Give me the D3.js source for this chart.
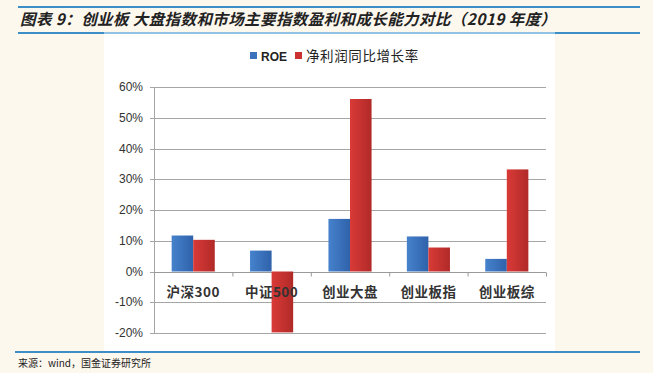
<!DOCTYPE html>
<html>
<head>
<meta charset="utf-8">
<script src="https://cdn.jsdelivr.net/npm/d3@7"></script>
<style>
  body { margin: 0; background: #fdf8ee; }
  svg { display: block; }
</style>
</head>
<body>
<svg id="canvas" width="653" height="373"></svg>
<script>
// data
let categories = ['沪深300', '中证500', '创业大盘', '创业板指', '创业板综'];
let seriesNames = ['ROE', '净利润同比增长率'];
let roe = [11.7, 6.8, 17.1, 11.4, 4.1];
let profitGrowth = [10.3, -19.8, 56.1, 7.8, 33.2];
let yTicks = [-20, -10, 0, 10, 20, 30, 40, 50, 60];

let titleText = '图表 9：创业板 大盘指数和市场主要指数盈利和成长能力对比（2019 年度）';
let sourceText = '来源：wind，国金证券研究所';

let colors = ['#3a72bd', '#c9302f'];
let cjk = "'Noto Sans CJK SC', sans-serif";

let svg = d3.select('#canvas');

// gradients like the excel bars
let defs = svg.append('defs');
let grad = (id, a, b) => {
    let g = defs.append('linearGradient').attr('id', id)
        .attr('x1', '0').attr('x2', '1').attr('y1', '0').attr('y2', '0');
    g.append('stop').attr('offset', '0%').attr('stop-color', a);
    g.append('stop').attr('offset', '100%').attr('stop-color', b);
};
grad('g0', '#4682cc', '#2f62aa');
grad('g1', '#d93a37', '#b02a28');

// frame: white chart area, rules, title
svg.append('rect').attr('x', 104).attr('y', 34).attr('width', 451).attr('height', 317).attr('fill', '#ffffff');

svg.append('line').attr('x1', 18).attr('x2', 640).attr('y1', 7).attr('y2', 7)
    .attr('stroke', '#3d8ec6').attr('stroke-width', 2);
svg.append('line').attr('x1', 18).attr('x2', 640).attr('y1', 33).attr('y2', 33)
    .attr('stroke', '#3d8ec6').attr('stroke-width', 2);
svg.append('line').attr('x1', 104).attr('x2', 555).attr('y1', 33).attr('y2', 33)
    .attr('stroke', '#8fc2e3').attr('stroke-width', 2);
svg.append('line').attr('x1', 15).attr('x2', 640).attr('y1', 352).attr('y2', 352)
    .attr('stroke', '#3d8ec6').attr('stroke-width', 2);

svg.append('text').attr('x', 20).attr('y', 25)
    .attr('font-family', cjk).attr('font-size', 15.5).attr('font-weight', 'bold')
    .attr('font-style', 'italic').attr('fill', '#222')
    .attr('letter-spacing', 0.4)
    .text(titleText);

svg.append('text').attr('x', 18).attr('y', 367)
    .attr('font-family', cjk).attr('font-size', 10).attr('fill', '#222')
    .text(sourceText);

// scales
let plotLeft = 154, plotRight = 546;
let x = d3.scaleBand().domain(categories).range([plotLeft, plotRight]).paddingInner(0.45).paddingOuter(0.225);
let xSub = d3.scaleBand().domain(seriesNames).range([0, x.bandwidth()]);
let y = d3.scaleLinear().domain([-20, 60]).range([333, 87]);

// gridlines
svg.append('g').selectAll('line')
    .data(yTicks)
    .enter()
    .append('line')
    .attr('x1', plotLeft - 4).attr('x2', plotRight)
    .attr('y1', d => Math.round(y(d)) + 0.5).attr('y2', d => Math.round(y(d)) + 0.5)
    .attr('stroke', '#a6a6a6').attr('stroke-width', 1);

svg.append('line').attr('x1', plotLeft + 0.5).attr('x2', plotLeft + 0.5)
    .attr('y1', y(60)).attr('y2', y(-20))
    .attr('stroke', '#a6a6a6');

// y labels
svg.append('g').selectAll('text')
    .data(yTicks)
    .enter()
    .append('text')
    .attr('x', 143)
    .attr('y', d => y(d) + 4)
    .attr('text-anchor', 'end')
    .attr('font-family', "'Liberation Sans', Arial, sans-serif")
    .attr('font-size', 12).attr('fill', '#333')
    .text(d => d + '%');

// zero axis and category ticks (bars are drawn over them)
let zeroY = Math.round(y(0)) + 0.5;
svg.append('line').attr('x1', plotLeft).attr('x2', plotRight)
    .attr('y1', zeroY).attr('y2', zeroY).attr('stroke', '#9a9a9a');
svg.append('g').selectAll('line')
    .data(d3.range(categories.length + 1))
    .enter()
    .append('line')
    .attr('x1', i => plotLeft + i * x.step() + 0.5)
    .attr('x2', i => plotLeft + i * x.step() + 0.5)
    .attr('y1', zeroY).attr('y2', zeroY + 4)
    .attr('stroke', '#9a9a9a');

// bars
let rows = categories.map((c, i) => ({ cat: c, vals: [roe[i], profitGrowth[i]] }));
let groups = svg.append('g').selectAll('g')
    .data(rows)
    .enter()
    .append('g')
    .attr('transform', d => 'translate(' + x(d.cat) + ',0)');

groups.selectAll('rect')
    .data(d => d.vals.map((v, k) => ({ name: seriesNames[k], v: v, k: k })))
    .enter()
    .append('rect')
    .attr('x', d => xSub(d.name))
    .attr('width', xSub.bandwidth())
    .attr('y', d => y(Math.max(0, d.v)))
    .attr('height', d => Math.abs(y(d.v) - y(0)))
    .attr('fill', d => 'url(#g' + d.k + ')');

// category labels
svg.append('g').selectAll('text')
    .data(categories)
    .enter()
    .append('text')
    .attr('x', d => x(d) + x.bandwidth() / 2)
    .attr('y', 297)
    .attr('text-anchor', 'middle')
    .attr('font-family', cjk).attr('font-size', 13.5).attr('font-weight', 'bold')
    .attr('letter-spacing', 0.5)
    .attr('fill', '#333')
    .text(d => d);

// legend
let legend = svg.append('g');
let legendX = [250, 295];
seriesNames.forEach((name, i) => {
    legend.append('rect').attr('x', legendX[i]).attr('y', 52).attr('width', 7).attr('height', 7)
        .attr('fill', colors[i]);
    legend.append('text').attr('x', legendX[i] + 11).attr('y', 61)
        .attr('font-family', i === 0 ? "'Liberation Sans', Arial, sans-serif" : cjk)
        .attr('font-size', i === 0 ? 12 : 13.5)
        .attr('font-weight', i === 0 ? 'bold' : 'normal')
        .attr('letter-spacing', i === 0 ? 0 : 0.6)
        .attr('fill', '#222')
        .text(name);
});
</script>
</body>
</html>
